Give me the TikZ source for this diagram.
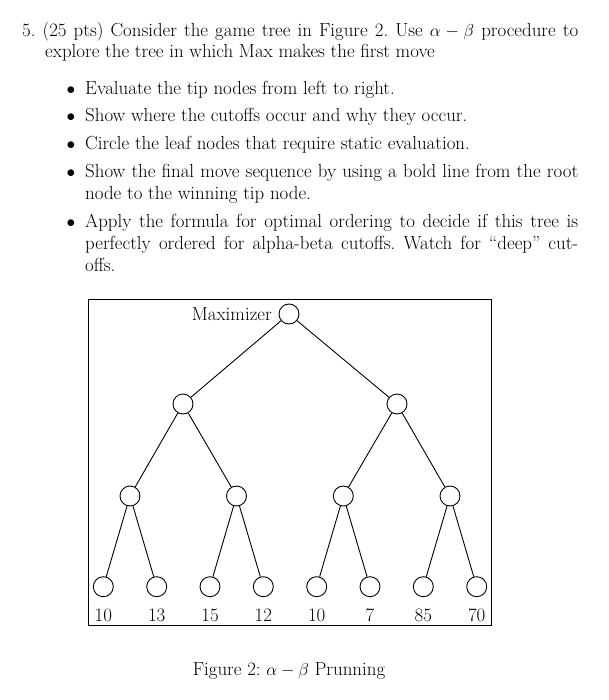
\documentclass[tikz,border=0pt]{standalone}
\begin{document}
\frenchspacing
\begin{tikzpicture}[x=1pt,y=-1pt,
  every node/.style={inner sep=0pt, font=\fontsize{18.9}{22}\selectfont},
  txt/.style={anchor=base west},
  tn/.style={circle, draw, line width=0.9pt, minimum size=20pt, inner sep=0pt},
  edg/.style={line width=0.9pt},
  lbl/.style={anchor=base}]
\useasboundingbox (0,0) rectangle (608,700);
% question text
\node[txt] (l1) at (22,37) {\makebox[556pt][s]{5. (25 pts) Consider the game tree in Figure 2. Use $\alpha-\beta$ procedure to}};
\node[txt] (l2) at (45,57.5) {explore the tree in which Max makes the first move};
\node[txt] (b1) at (85,94.5) {Evaluate the tip nodes from left to right.};
\node[txt] (b2) at (85,121.5) {Show where the cutoffs occur and why they occur.};
\node[txt] (b3) at (85,149.5) {Circle the leaf nodes that require static evaluation.};
\node[txt] (b4) at (85,177.5) {\makebox[493pt][s]{Show the final move sequence by using a bold line from the root}};
\node[txt] (b4b) at (85,199.5) {node to the winning tip node.};
\node[txt] (b5) at (85,227.5) {\makebox[493pt][s]{Apply the formula for optimal ordering to decide if this tree is}};
\node[txt] (b5b) at (85,249.5) {\makebox[493pt][s]{perfectly ordered for alpha-beta cutoffs. Watch for ``deep'' cut-}};
\node[txt] (b5c) at (85,271.5) {offs.};
\foreach \y/\n in {94.5/1,121.5/2,149.5/3,177.5/4,227.5/5}
  \node[anchor=base] (dot\n) at (71,\y) {$\bullet$};
% frame
\node[draw, line width=0.9pt, minimum width=403pt, minimum height=326pt] (frame) at (289.5,462) {};
% tree
\node[tn] (r) at (289,314) {};
\node[anchor=base east] (maxlbl) at (272,320) {Maximizer};
\node[tn] (a) at (183,404) {};
\node[tn] (b) at (397,404) {};
\node[tn] (aa) at (130,496) {};
\node[tn] (ab) at (236.5,496) {};
\node[tn] (ba) at (343.3,496) {};
\node[tn] (bb) at (450,496) {};
\foreach \i/\x/\v in {1/103.3/10,2/156.7/13,3/210/15,4/263.3/12,5/316.7/10,6/370/7,7/423.3/85,8/476.7/70}{
  \node[tn] (t\i) at (\x,586.7) {};
  \node[lbl] (v\i) at (\x,621.5) {\v};
}
\draw[edg] (r) -- (a);
\draw[edg] (r) -- (b);
\draw[edg] (a) -- (aa);
\draw[edg] (a) -- (ab);
\draw[edg] (b) -- (ba);
\draw[edg] (b) -- (bb);
\draw[edg] (aa) -- (t1);
\draw[edg] (aa) -- (t2);
\draw[edg] (ab) -- (t3);
\draw[edg] (ab) -- (t4);
\draw[edg] (ba) -- (t5);
\draw[edg] (ba) -- (t6);
\draw[edg] (bb) -- (t7);
\draw[edg] (bb) -- (t8);
% caption
\node[lbl] (cap) at (289,675) {Figure 2: $\alpha-\beta$ Prunning};
\end{tikzpicture}
\end{document}
